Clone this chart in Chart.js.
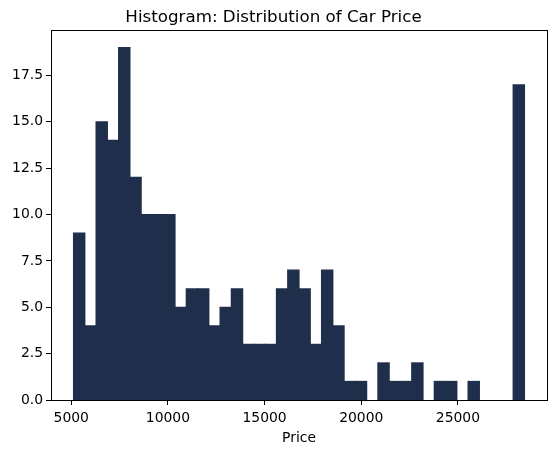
<!DOCTYPE html>
<html>
<head>
<meta charset="utf-8">
<script src="https://cdn.jsdelivr.net/npm/chart.js@4.4.1/dist/chart.umd.min.js"></script>
<style>
  html, body { margin: 0; padding: 0; background: #fff; }
  #wrap { width: 556px; height: 453px; }
</style>
</head>
<body>
<div id="wrap"><canvas id="chart"></canvas></div>
<script>
// histogram counts, 40 equal bins across the price range
const binCounts = [9, 4, 15, 14, 19, 12, 10, 10, 10, 5,
                   6, 6, 4, 5, 6, 3, 3, 3, 6, 7,
                   6, 3, 7, 4, 1, 1, 0, 2, 1, 1,
                   2, 0, 1, 1, 0, 1, 0, 0, 0, 17];
const priceMin = 5118;
const priceMax = 28440;
const xTicks = [5000, 10000, 15000, 20000, 25000];
const yTicks = [0, 2.5, 5, 7.5, 10, 12.5, 15, 17.5];

const binWidth = (priceMax - priceMin) / binCounts.length;
// empty bins get null so nothing is drawn for them
const points = binCounts.map((c, i) => ({ x: priceMin + binWidth * (i + 0.5), y: c || null }));
const span = priceMax - priceMin;
const maxCount = Math.max(...binCounts);

const frame = {
  id: "frame",
  afterDatasetsDraw(chart) {
    const a = chart.chartArea, ctx = chart.ctx;
    ctx.save();
    ctx.strokeStyle = "#000";
    ctx.lineWidth = 1;
    ctx.strokeRect(Math.round(a.left) + 0.5, Math.round(a.top) + 0.5,
                   Math.round(a.right - a.left), Math.round(a.bottom - a.top));
    ctx.restore();
  }
};

Chart.defaults.font.family = "'DejaVu Sans', sans-serif";
Chart.defaults.color = "#000";

new Chart(document.getElementById("chart"), {
  type: "bar",
  data: {
    datasets: [{
      data: points,
      backgroundColor: "#1f2e4a",
      borderWidth: 0,
      inflateAmount: 0.6,
      barPercentage: 1,
      categoryPercentage: 1
    }]
  },
  options: {
    responsive: true,
    maintainAspectRatio: false,
    animation: false,
    layout: { padding: { left: 0, right: 9, top: 0, bottom: 0 } },
    plugins: {
      legend: { display: false },
      tooltip: { enabled: false },
      title: {
        display: true,
        text: "Histogram: Distribution of Car Price",
        font: { size: 16.7, weight: "normal" },
        color: "#000",
        padding: { top: 8, bottom: 2 }
      }
    },
    scales: {
      x: {
        type: "linear",
        offset: false,
        min: priceMin - span * 0.05,
        max: priceMax + span * 0.05,
        afterBuildTicks(s) { s.ticks = xTicks.map(v => ({ value: v })); },
        afterFit(s) { s.height = 53; },
        ticks: { font: { size: 13.9 }, padding: 5, maxRotation: 0, autoSkip: false, callback: v => String(v) },
        grid: { display: true, offset: false, drawOnChartArea: false, drawTicks: true, tickLength: 5, color: "#000" },
        border: { display: false },
        title: { display: true, text: "Price", font: { size: 13.9 }, padding: { top: 0, bottom: 6 } }
      },
      y: {
        min: 0,
        max: maxCount * 1.05,
        afterBuildTicks(s) { s.ticks = yTicks.map(v => ({ value: v })); },
        afterFit(s) { s.width = 51; },
        ticks: { font: { size: 13.9 }, padding: 3, callback: v => v.toFixed(1) },
        grid: { display: true, drawOnChartArea: false, drawTicks: true, tickLength: 5, color: "#000" },
        border: { display: false }
      }
    }
  },
  plugins: [frame]
});
</script>
</body>
</html>
